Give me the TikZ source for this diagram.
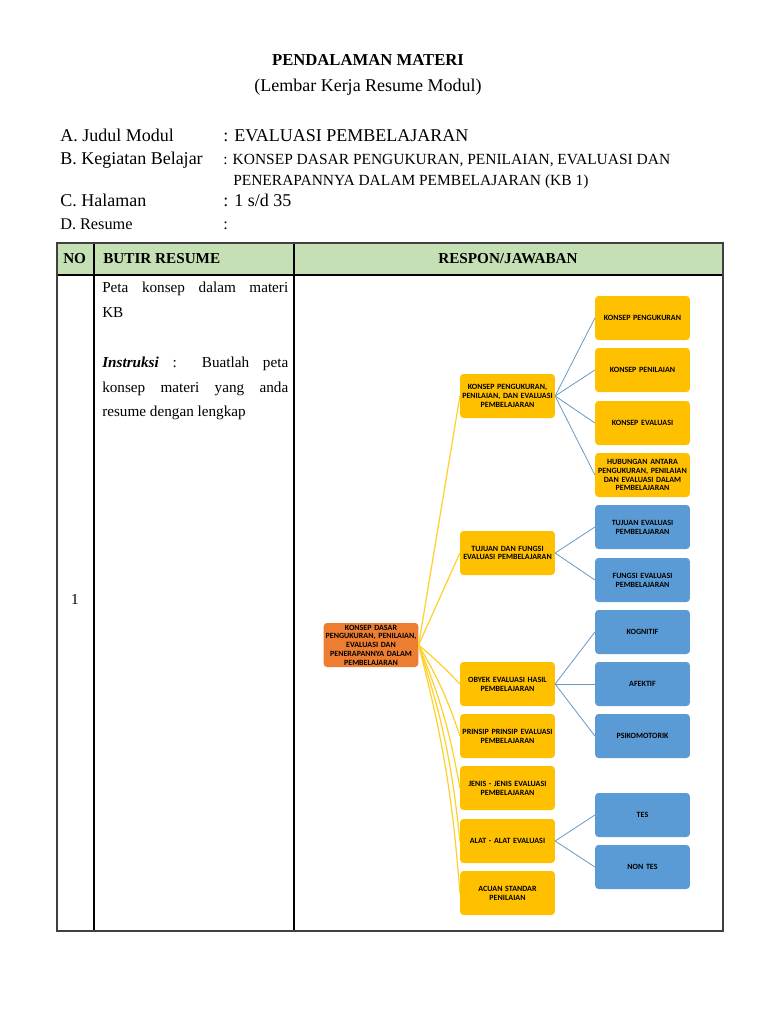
\documentclass[tikz,border=0pt]{standalone}
\usepackage{fontspec}
\setmainfont{Liberation Serif}
\newfontfamily\mapfont{Carlito}
\usetikzlibrary{positioning}
\definecolor{boxyellow}{RGB}{255,192,0}
\definecolor{boxblue}{RGB}{91,155,213}
\definecolor{boxorange}{RGB}{237,125,49}
\definecolor{linkyellow}{RGB}{255,208,40}
\definecolor{linkblue}{RGB}{104,152,196}
\definecolor{headgreen}{RGB}{197,224,180}
\definecolor{rulegray}{RGB}{64,64,64}

\begin{document}
\begin{tikzpicture}[x=0.75pt, y=-0.75pt,
  doc/.style={inner sep=0pt, anchor=base west, font=\fontsize{13.5}{16}\selectfont},
  cell/.style={inner sep=0pt, font=\fontsize{11.4}{18.3}\selectfont},
  mapbox/.style={rounded corners=2.5pt, minimum height=33pt, inner sep=0.5pt, text width=70pt, align=center, font=\mapfont\bfseries\fontsize{6}{6.6}\selectfont},
  yel/.style={mapbox, fill=boxyellow},
  blu/.style={mapbox, fill=boxblue},
  org/.style={mapbox, fill=boxorange},
  ylink/.style={linkyellow, line width=0.9pt},
  blink/.style={linkblue, line width=0.6pt}]
  \useasboundingbox (0,0) rectangle (768,1024);
  \node[doc, anchor=base, font=\bfseries\fontsize{12.5}{15}\selectfont] (judul) at (368,66) {PENDALAMAN MATERI};
  \node[doc, anchor=base] (subjudul) at (368,92) {(Lembar Kerja Resume Modul)};
  \node[doc] (la) at (60,141) {A. Judul Modul};
  \node[doc] (va) at (223,141) {: EVALUASI PEMBELAJARAN};
  \node[doc] (lb) at (60,164) {B. Kegiatan Belajar};
  \node[doc, font=\fontsize{11.6}{14}\selectfont] (vb) at (223,164) {: KONSEP DASAR PENGUKURAN, PENILAIAN, EVALUASI DAN};
  \node[doc, font=\fontsize{11.6}{14}\selectfont] (vb2) at (233,185) {PENERAPANNYA DALAM PEMBELAJARAN (KB 1)};
  \node[doc] (lc) at (60,206) {C. Halaman};
  \node[doc] (vc) at (223,206) {: 1 s/d 35};
  \node[doc, font=\fontsize{12.2}{14}\selectfont] (ld) at (60,229) {D. Resume};
  \node[doc, font=\fontsize{12.2}{14}\selectfont] (vd) at (223,229) {:};

  \fill[headgreen] (57,243) rectangle (723,275);
  \draw[black, line width=0.8pt] (57,275) -- (723,275) (94,243) -- (94,931) (294,243) -- (294,931);
  \draw[rulegray, line width=1.3pt] (57,243) rectangle (723,931);
  \node[cell, anchor=base west, font=\bfseries\fontsize{11.4}{14}\selectfont] (hno) at (63,263) {NO};
  \node[cell, anchor=base west, font=\bfseries\fontsize{11.4}{14}\selectfont] (hbutir) at (103,263) {BUTIR RESUME};
  \node[cell, anchor=base, font=\bfseries\fontsize{11.4}{14}\selectfont] (hrespon) at (508,263) {RESPON/JAWABAN};
  \node[cell, anchor=base] (no) at (75,604) {1};
  \node[cell, anchor=north west, text width=139.5pt, align=justify] (butir) at (102,282) {Peta konsep dalam materi\linebreak KB};
  \node[cell, anchor=north west, text width=139.5pt, align=justify] (instruksi) at (102,357) {\textbf{\textit{Instruksi}} : Buatlah peta\linebreak konsep materi yang anda\linebreak resume dengan lengkap};

  \node[org] (kb) at (371,645) {KONSEP DASAR\\PENGUKURAN, PENILAIAN,\\EVALUASI DAN\\PENERAPANNYA DALAM\\PEMBELAJARAN};
  \node[yel] (konsep) at (507.5,396) {KONSEP PENGUKURAN,\\PENILAIAN, DAN EVALUASI\\PEMBELAJARAN};
  \node[yel] (tujuan) at (507.5,553) {TUJUAN DAN FUNGSI\\EVALUASI PEMBELAJARAN};
  \node[yel] (obyek) at (507.5,684) {OBYEK EVALUASI HASIL\\PEMBELAJARAN};
  \node[yel] (prinsip) at (507.5,736) {PRINSIP PRINSIP EVALUASI\\PEMBELAJARAN};
  \node[yel] (jenis) at (507.5,788) {JENIS - JENIS EVALUASI\\PEMBELAJARAN};
  \node[yel] (alat) at (507.5,841) {ALAT - ALAT EVALUASI};
  \node[yel] (acuan) at (507.5,893) {ACUAN STANDAR\\PENILAIAN};

  \node[yel] (kpengukuran) at (642.5,318) {KONSEP PENGUKURAN};
  \node[yel] (kpenilaian) at (642.5,370) {KONSEP PENILAIAN};
  \node[yel] (kevaluasi) at (642.5,423) {KONSEP EVALUASI};
  \node[yel] (hubungan) at (642.5,475) {HUBUNGAN ANTARA\\PENGUKURAN, PENILAIAN\\DAN EVALUASI DALAM\\PEMBELAJARAN};
  \node[blu] (tevaluasi) at (642.5,527) {TUJUAN EVALUASI\\PEMBELAJARAN};
  \node[blu] (fevaluasi) at (642.5,580) {FUNGSI EVALUASI\\PEMBELAJARAN};
  \node[blu] (kognitif) at (642.5,632) {KOGNITIF};
  \node[blu] (afektif) at (642.5,684) {AFEKTIF};
  \node[blu] (psikomotorik) at (642.5,736) {PSIKOMOTORIK};
  \node[blu] (tes) at (642.5,815) {TES};
  \node[blu] (nontes) at (642.5,867) {NON TES};

  \foreach \m/\b in {konsep/0,tujuan/0,obyek/3,prinsip/6,jenis/6,alat/6,acuan/5}
    \draw[ylink] (kb.east) to[bend left=\b] (\m.west);
  \foreach \a/\b in {konsep/kpengukuran,konsep/kpenilaian,konsep/kevaluasi,konsep/hubungan,tujuan/tevaluasi,tujuan/fevaluasi,obyek/kognitif,obyek/afektif,obyek/psikomotorik,alat/tes,alat/nontes}
    \draw[blink] (\a.east) -- (\b.west);
\end{tikzpicture}
\end{document}
